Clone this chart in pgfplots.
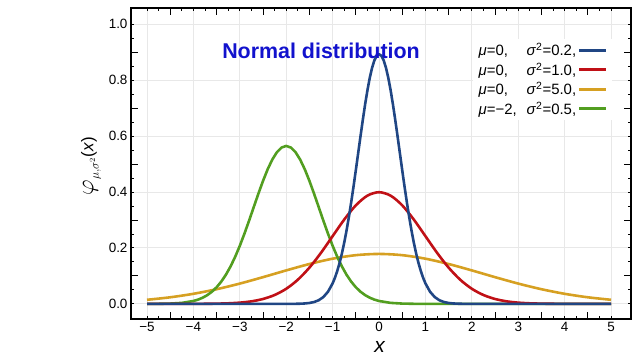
\documentclass[border=0pt]{standalone}
\usepackage{pgfplots}
\pgfplotsset{compat=1.18}
\usepackage{graphicx}
\usepackage{fontspec}
\setmainfont{Liberation Sans}
\definecolor{cblue}{RGB}{32,70,132}
\definecolor{cred}{RGB}{192,16,22}
\definecolor{cgold}{RGB}{214,160,34}
\definecolor{cgreen}{RGB}{82,158,32}
\definecolor{ctitle}{RGB}{18,18,205}
\begin{document}
\begin{tikzpicture}
\begin{axis}[
  width=500bp, height=311bp, scale only axis,
  xmin=-5.345, xmax=5.43, ymin=-0.054, ymax=1.057,
  axis line style={line width=1.2pt},
  tick align=inside,
  xtick={-5,-4,-3,-2,-1,0,1,2,3,4,5},
  xticklabels={−5,−4,−3,−2,−1,0,1,2,3,4,5},
  ytick={0,0.2,0.4,0.6,0.8,1.0},
  yticklabels={0.0,0.2,0.4,0.6,0.8,1.0},
  minor x tick num=3, minor y tick num=3,
  major tick length=3.5bp, minor tick length=3.5bp,
  tick style={black, line width=0.8pt},
  grid=major, major grid style={black!9, line width=0.8pt},
  extra x ticks={-4.5,-3.5,-2.5,-1.5,-0.5,0.5,1.5,2.5,3.5,4.5},
  extra x tick labels={},
  extra x tick style={grid=none, major tick length=7bp},
  extra y ticks={0.1,0.3,0.5,0.7,0.9},
  extra y tick labels={},
  extra y tick style={grid=none, major tick length=7bp},
  ticklabel style={font=\fontsize{13.5}{15}\selectfont},
  xlabel={\textit{x}},
  xlabel style={at={(rel axis cs:0.498,-0.09)}, anchor=center, font=\fontsize{21}{24}\selectfont},
  ylabel={$\scalebox{1.4}{$\varphi$}_{\mu,\sigma^2}$(\textit{x})},
  ylabel style={at={(rel axis cs:-0.08,0.492)}, anchor=center, font=\fontsize{17}{20}\selectfont},
  legend plot pos=right,
  legend image code/.code={\draw[#1] (3bp,0bp) -- (30bp,0bp);},
  legend style={at={(axis cs:5.02,0.946)}, anchor=north east, draw=none, fill=white,
    font=\fontsize{15}{18}\selectfont, row sep=1.5bp, inner xsep=4bp, inner ysep=2bp},
  legend cell align=left,
]
\addlegendimage{cblue, line width=2.6pt}
\addlegendentry{\makebox[48bp][l]{\textit{μ}=0,}\textit{σ}\textsuperscript{2}=0.2,}
\addlegendimage{cred, line width=2.6pt}
\addlegendentry{\makebox[48bp][l]{\textit{μ}=0,}\textit{σ}\textsuperscript{2}=1.0,}
\addlegendimage{cgold, line width=2.6pt}
\addlegendentry{\makebox[48bp][l]{\textit{μ}=0,}\textit{σ}\textsuperscript{2}=5.0,}
\addlegendimage{cgreen, line width=2.6pt}
\addlegendentry{\makebox[48bp][l]{\textit{μ}=−2,}\textit{σ}\textsuperscript{2}=0.5,}
% gold: mu=0, var=5
\addplot[cgold, line width=2.6pt, smooth, forget plot] coordinates {
(-5,0.01464) (-4.5,0.02355) (-4,0.03602) (-3.5,0.05241) (-3,0.07254) (-2.5,0.09550)
(-2,0.11959) (-1.5,0.14246) (-1,0.16143) (-0.5,0.17401) (0,0.17841)
(0.5,0.17401) (1,0.16143) (1.5,0.14246) (2,0.11959) (2.5,0.09550) (3,0.07254)
(3.5,0.05241) (4,0.03602) (4.5,0.02355) (5,0.01464)};
% green: mu=-2, var=0.5
\addplot[cgreen, line width=2.6pt, line join=round, forget plot] coordinates {
(-5,0.00007) (-4.75,0.00029) (-4.5,0.00109) (-4.25,0.00357) (-4.0,0.01033)
(-3.9,0.01526) (-3.8,0.02210) (-3.7,0.03136) (-3.6,0.04361) (-3.5,0.05947)
(-3.4,0.07947) (-3.3,0.10410) (-3.2,0.13367) (-3.1,0.16824) (-3.0,0.20755)
(-2.9,0.25099) (-2.8,0.29749) (-2.7,0.34564) (-2.6,0.39362) (-2.5,0.43939)
(-2.4,0.48077) (-2.3,0.51563) (-2.2,0.54207) (-2.1,0.55858) (-2.0,0.56419)
(-1.9,0.55858) (-1.8,0.54207) (-1.7,0.51563) (-1.6,0.48077) (-1.5,0.43939)
(-1.4,0.39362) (-1.3,0.34564) (-1.2,0.29749) (-1.1,0.25099) (-1.0,0.20755)
(-0.9,0.16824) (-0.8,0.13367) (-0.7,0.10410) (-0.6,0.07947) (-0.5,0.05947)
(-0.4,0.04361) (-0.3,0.03136) (-0.2,0.02210) (-0.1,0.01526) (0,0.01033)
(0.25,0.00357) (0.5,0.00109) (0.75,0.00029) (1.0,0.00007) (1.5,0) (5,0)};
% red: mu=0, var=1
\addplot[cred, line width=2.6pt, smooth, forget plot] coordinates {
(-5,0) (-4.5,0.00002) (-4,0.00013) (-3.75,0.00035) (-3.5,0.00087) (-3.25,0.00203)
(-3,0.00443) (-2.75,0.00909) (-2.5,0.01753) (-2.25,0.03174) (-2,0.05399)
(-1.75,0.08628) (-1.5,0.12952) (-1.25,0.18265) (-1,0.24197) (-0.75,0.30114)
(-0.5,0.35207) (-0.25,0.38667) (0,0.39894)
(0.25,0.38667) (0.5,0.35207) (0.75,0.30114) (1,0.24197) (1.25,0.18265)
(1.5,0.12952) (1.75,0.08628) (2,0.05399) (2.25,0.03174) (2.5,0.01753)
(2.75,0.00909) (3,0.00443) (3.25,0.00203) (3.5,0.00087) (3.75,0.00035)
(4,0.00013) (4.5,0.00002) (5,0)};
% blue: mu=0, var=0.2
\addplot[cblue, line width=2.6pt, line join=round, forget plot] coordinates {
(-5,0) (-2.5,0) (-2,0.00004) (-1.8,0.00027) (-1.7,0.00065) (-1.6,0.00148)
(-1.5,0.00322) (-1.4,0.00664) (-1.3,0.01305) (-1.2,0.02437) (-1.1,0.04332)
(-1,0.07323) (-0.95,0.09346) (-0.9,0.11775) (-0.85,0.14654) (-0.8,0.18010)
(-0.75,0.21857) (-0.7,0.26205) (-0.65,0.31023) (-0.6,0.36269) (-0.55,0.41875)
(-0.5,0.47749) (-0.45,0.53772) (-0.4,0.59797) (-0.35,0.65672) (-0.3,0.71233)
(-0.25,0.76302) (-0.2,0.80717) (-0.15,0.84327) (-0.1,0.87004) (-0.05,0.88650)
(0,0.89206)
(0.05,0.88650) (0.1,0.87004) (0.15,0.84327) (0.2,0.80717) (0.25,0.76302)
(0.3,0.71233) (0.35,0.65672) (0.4,0.59797) (0.45,0.53772) (0.5,0.47749)
(0.55,0.41875) (0.6,0.36269) (0.65,0.31023) (0.7,0.26205) (0.75,0.21857)
(0.8,0.18010) (0.85,0.14654) (0.9,0.11775) (0.95,0.09346) (1,0.07323)
(1.1,0.04332) (1.2,0.02437) (1.3,0.01305) (1.4,0.00664) (1.5,0.00322)
(1.6,0.00148) (1.7,0.00065) (1.8,0.00027) (2,0.00004) (2.5,0) (5,0)};
\node[font=\fontsize{21.5}{24}\selectfont\bfseries, text=ctitle] at (axis cs:-1.25,0.904) {Normal distribution};
\end{axis}
\pgfresetboundingbox
\path[use as bounding box] (current axis.south west) ++(-131bp,-40bp) rectangle ++(638bp,359bp);
\end{tikzpicture}
\end{document}
